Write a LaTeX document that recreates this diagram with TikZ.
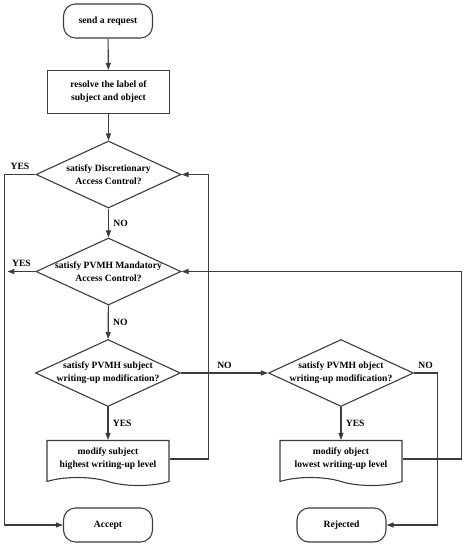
\documentclass[tikz,border=0pt]{standalone}
\usepackage{fontspec}
\setmainfont{Liberation Serif}
\usetikzlibrary{shapes.geometric,shapes.symbols,arrows.meta}

\begin{document}
\begin{tikzpicture}[x=1pt,y=-1pt,
    font=\bfseries\fontsize{9.6}{13}\selectfont,
    flow_line/.style={draw=flow_gray,line width=1.1pt},
    flow_arrow/.style={flow_line,-{Triangle[length=7pt,width=5pt]}},
    term_box/.style={flow_line,rounded corners=12pt,minimum width=89pt,minimum height=34pt},
    proc_box/.style={flow_line,minimum width=122pt,minimum height=43pt,align=center},
    test_box/.style={flow_line,diamond,aspect=2.16,minimum width=145pt,minimum height=67pt,inner sep=-12pt,align=center},
    doc_box/.style={flow_line,tape,tape bend top=none,tape bend bottom=out and in,tape bend height=8pt,minimum width=122pt,minimum height=45pt,align=center}]
    \definecolor{flow_gray}{HTML}{3c3c3c}
    % \draw[help lines] (0,0) grid (468,550);
    \useasboundingbox (0,0) rectangle (468,550);

    \node[term_box] (start) at (108,21) {send a request};
    \node[proc_box] (resolve) at (108.5,92) {resolve the label of\\subject and object};
    \node[test_box] (dac) at (108.5,174.5) {satisfy Discretionary\\Access Control?};
    \node[test_box] (mac) at (108.5,271.5) {satisfy PVMH Mandatory\\Access Control?};
    \node[test_box] (subj) at (108,373) {satisfy PVMH subject\\writing-up modification?};
    \node[doc_box] (subj_mod) at (108,459) {modify subject\\highest writing-up level};
    \node[term_box] (accept) at (108,525) {Accept};
    \node[test_box] (obj) at (341,373) {satisfy PVMH object\\writing-up modification?};
    \node[doc_box] (obj_mod) at (341,459) {modify object\\lowest writing-up level};
    \node[term_box] (reject) at (341.5,525) {Rejected};

    \draw[flow_arrow] (start) -- (resolve);
    \draw[flow_arrow] (resolve) -- (dac);
    \draw[flow_arrow] (dac) -- node[right=1pt] {NO} (mac);
    \draw[flow_arrow] (mac) -- node[right=1pt] {NO} (subj);
    \draw[flow_arrow] (subj) -- node[right=1pt] {YES} (subj_mod);
    \draw[flow_arrow] (obj) -- node[right=1pt] {YES} (obj_mod);
    \draw[flow_arrow] (subj.east) -- node[above=1pt] {NO} (obj.west);
    \draw[flow_arrow] (dac.west) -- node[above=1pt] {YES} ++(-31,0) |- (accept.west);
    \draw[flow_arrow] (mac.west) -- node[above=1pt] {YES} ++(-28,0);
    \draw[flow_arrow] (obj.east) -- node[above=1pt] {NO} ++(23,0) |- (reject.east);
    \draw[flow_arrow] (subj_mod.east) -- ++(39,0) |- (dac.east);
    \draw[flow_arrow] (obj_mod.east) -- ++(59,0) |- (mac.east);
\end{tikzpicture}
\end{document}
